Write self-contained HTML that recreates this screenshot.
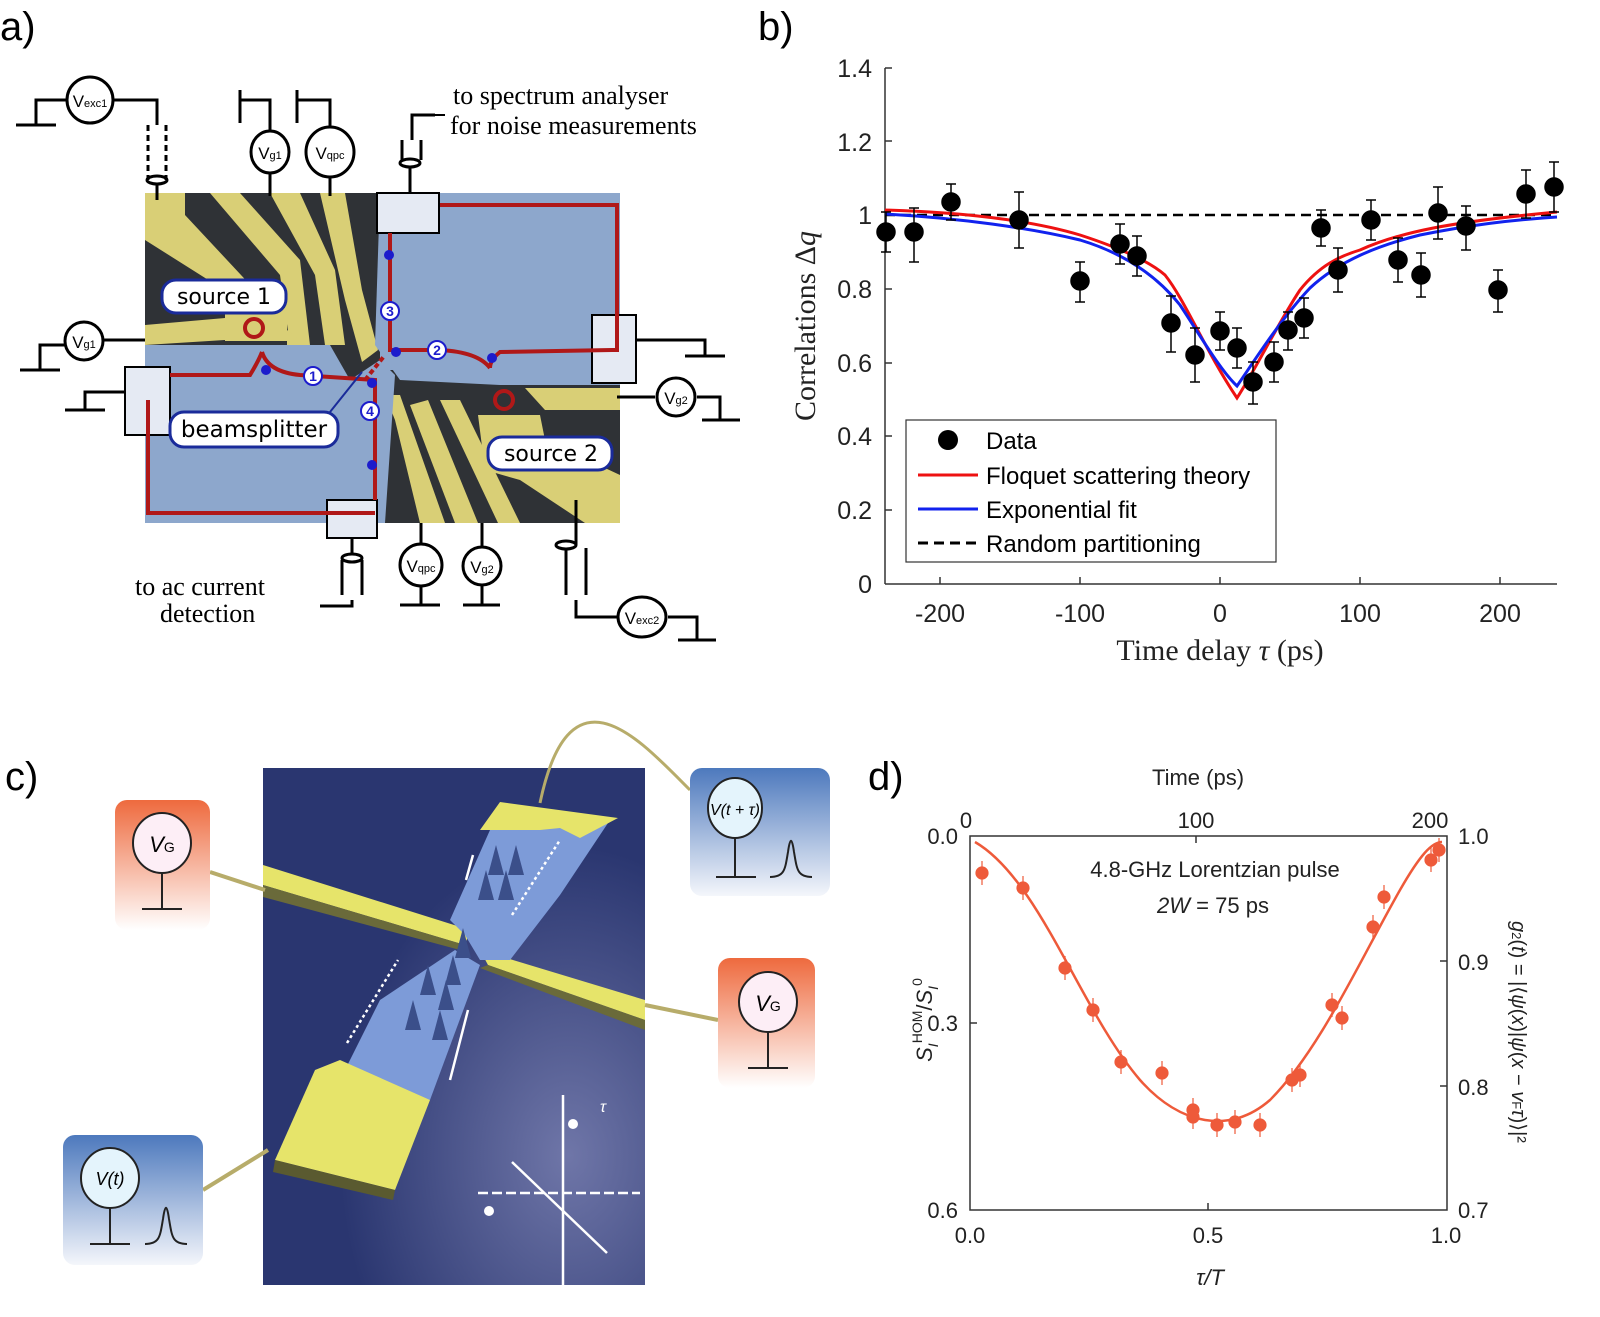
<!DOCTYPE html>
<html><head><meta charset="utf-8"><style>
html,body{margin:0;padding:0;background:#fff}
svg{display:block}
</style></head><body>
<svg width="1600" height="1317" viewBox="0 0 1600 1317" xmlns="http://www.w3.org/2000/svg" font-family="Liberation Sans, sans-serif">
<defs>
<linearGradient id="org" x1="0" y1="0" x2="0" y2="1"><stop offset="0" stop-color="#ee6a3e"/><stop offset="1" stop-color="#fff"/></linearGradient>
<linearGradient id="blu" x1="0" y1="0" x2="0" y2="1"><stop offset="0" stop-color="#4d79bd"/><stop offset="1" stop-color="#f4f6fb"/></linearGradient>
<radialGradient id="bg" cx="0.8" cy="0.75" r="0.6"><stop offset="0" stop-color="#6f76a8"/><stop offset="1" stop-color="#2a3670"/></radialGradient>
</defs>

<text x="0" y="40" font-size="40">a)</text>
<text x="758" y="40" font-size="40">b)</text>
<text x="5" y="790" font-size="40">c)</text>
<text x="868" y="790" font-size="40">d)</text>

<!-- ===== Panel a ===== -->
<rect x="145" y="193" width="475" height="330" fill="#8da7cc"/>
<polygon points="145,193 380,193 380,360 350,380 330,345 145,345" fill="#2f3236"/>
<polygon points="385,370 620,370 620,523 385,523" fill="#2f3236"/>
<!-- yellow stripes top-left -->
<polygon points="145,193 185,193 185,215 255,290 240,300 145,240" fill="#d9cf76"/>
<polygon points="210,193 240,193 300,260 310,345 290,345 280,275" fill="#d9cf76"/>
<polygon points="270,193 300,193 335,270 345,345 325,345 315,275" fill="#d9cf76"/>
<polygon points="320,193 345,193 362,290 378,350 362,362 345,300" fill="#d9cf76"/>
<polygon points="145,325 225,318 225,340 145,345" fill="#d9cf76"/>
<rect x="225" y="308" width="62" height="33" fill="#d9cf76"/>
<polygon points="287,330 300,340 300,345 287,345" fill="#d9cf76"/>
<!-- yellow stripes bottom-right -->
<polygon points="385,395 400,395 445,523 420,523 395,420" fill="#d9cf76"/>
<polygon points="410,405 428,400 478,523 455,523" fill="#d9cf76"/>
<polygon points="440,400 460,400 520,523 498,523" fill="#d9cf76"/>
<polygon points="478,415 540,415 545,440 620,475 620,523 585,523 520,480 485,470" fill="#d9cf76"/>
<polygon points="525,388 620,388 620,410 545,410" fill="#d9cf76"/>
<!-- blue regions -->
<polygon points="145,348 240,348 360,380 380,360 395,375 385,523 145,523" fill="#8da7cc"/>
<polygon points="380,193 620,193 620,385 500,385 400,380 375,345" fill="#8da7cc"/>
<!-- contacts -->
<rect x="377" y="193" width="62" height="40" fill="#e5eaf3" stroke="#000" stroke-width="2"/>
<rect x="592" y="315" width="44" height="68" fill="#e5eaf3" stroke="#000" stroke-width="2"/>
<rect x="125" y="367" width="45" height="68" fill="#e5eaf3" stroke="#000" stroke-width="2"/>
<rect x="327" y="500" width="50" height="38" fill="#e5eaf3" stroke="#000" stroke-width="2"/>
<g fill="none" stroke="#b01818" stroke-width="4">
<path d="M170,375 L250,375 Q258,362 262,352 M262,352 Q268,372 300,375 L375,380 L375,500"/>
<path d="M440,205 L617,205 L617,350 L612,350 L500,352 Q490,360 490,368 M490,368 Q478,352 440,350 L390,350 L390,233"/>
<path d="M375,513 L148,513 L148,400"/>
<circle cx="254" cy="328" r="9"/>
<circle cx="504" cy="400" r="9"/>
</g>
<line x1="365" y1="380" x2="385" y2="355" stroke="#b01818" stroke-width="4" stroke-dasharray="5,3"/>
<g fill="#1c1ccc"><circle cx="266" cy="370" r="5"/><circle cx="372" cy="383" r="5"/><circle cx="389" cy="255" r="5"/><circle cx="396" cy="352" r="5"/><circle cx="492" cy="358" r="5"/><circle cx="372" cy="465" r="5"/></g>
<g font-size="14" font-weight="bold" fill="#1c1ccc" text-anchor="middle">
<circle cx="313" cy="376" r="9" fill="#fff" stroke="#1c1ccc" stroke-width="2"/><text x="313" y="381">1</text>
<circle cx="437" cy="350" r="9" fill="#fff" stroke="#1c1ccc" stroke-width="2"/><text x="437" y="355">2</text>
<circle cx="390" cy="311" r="9" fill="#fff" stroke="#1c1ccc" stroke-width="2"/><text x="390" y="316">3</text>
<circle cx="370" cy="411" r="9" fill="#fff" stroke="#1c1ccc" stroke-width="2"/><text x="370" y="416">4</text>
</g>
<rect x="162" y="280" width="124" height="33" rx="14" fill="#fff" stroke="#1a2b9a" stroke-width="3"/>
<text x="224" y="304" font-size="22" text-anchor="middle" font-family="DejaVu Sans, sans-serif">source 1</text>
<rect x="170" y="412" width="168" height="35" rx="14" fill="#fff" stroke="#1a2b9a" stroke-width="3"/>
<text x="254" y="437" font-size="23" text-anchor="middle" font-family="DejaVu Sans, sans-serif">beamsplitter</text>
<line x1="330" y1="412" x2="362" y2="372" stroke="#1a2b9a" stroke-width="2"/>
<rect x="488" y="437" width="124" height="33" rx="14" fill="#fff" stroke="#1a2b9a" stroke-width="3"/>
<text x="551" y="461" font-size="22" text-anchor="middle" font-family="DejaVu Sans, sans-serif">source 2</text>
<g fill="none" stroke="#000" stroke-width="3">
<path d="M36,125 L36,100 L68,100 M112,100 L157,100 L157,125"/>
<path d="M148,125 L148,180 M166,125 L166,180" stroke-dasharray="6,4"/>
<ellipse cx="157" cy="180" rx="10" ry="4"/><line x1="157" y1="184" x2="157" y2="200"/>
<path d="M240,90 L240,123 M240,100 L270,100 L270,132 M270,172 L270,196"/>
<path d="M297,90 L297,123 M297,100 L330,100 L330,128 M330,176 L330,196"/>
<path d="M412,140 L412,115 L435,115 M402,140 L402,160 M421,140 L421,160" />
<ellipse cx="410" cy="163" rx="10" ry="4"/><line x1="410" y1="167" x2="410" y2="193"/>
<path d="M40,370 L40,345 L68,345 M100,340 L145,340"/>
<path d="M85,410 L85,392 L125,392"/>
<path d="M636,340 L705,340 L705,356 M617,397 L655,397 M697,397 L720,397 L720,420"/>
<path d="M352,538 L352,560 M342,560 L342,595 M362,560 L362,595"/>
<path d="M352,600 L352,606 L320,606"/>
<path d="M421,523 L421,545 M421,585 L421,605 M482,523 L482,548 M482,585 L482,605"/>
<path d="M576,500 L576,545 M566,548 L566,595 M586,548 L586,595 M576,600 L576,617 L618,617 M668,617 L697,617 L697,640"/>
</g>
<g fill="#fff" stroke="#000" stroke-width="3">
<ellipse cx="90" cy="100" rx="23" ry="23"/>
<ellipse cx="270" cy="152" rx="19" ry="21"/>
<ellipse cx="330" cy="152" rx="24" ry="25"/>
<ellipse cx="84" cy="341" rx="19" ry="19"/>
<ellipse cx="676" cy="397" rx="19" ry="19"/>
<ellipse cx="421" cy="565" rx="21" ry="21"/>
<ellipse cx="482" cy="566" rx="19" ry="19"/>
<ellipse cx="642" cy="617" rx="24" ry="20"/>
<ellipse cx="566" cy="545" rx="10" ry="4"/>
<ellipse cx="352" cy="558" rx="10" ry="4"/>
</g>
<g stroke="#000" stroke-width="3"><line x1="16" y1="125" x2="56" y2="125"/><line x1="20" y1="370" x2="60" y2="370"/><line x1="65" y1="410" x2="105" y2="410"/><line x1="685" y1="356" x2="725" y2="356"/><line x1="702" y1="420" x2="740" y2="420"/><line x1="400" y1="605" x2="440" y2="605"/><line x1="463" y1="605" x2="500" y2="605"/><line x1="678" y1="640" x2="716" y2="640"/></g>
<g font-size="17" text-anchor="middle">
<text x="90" y="107">V<tspan font-size="11">exc1</tspan></text>
<text x="270" y="159">V<tspan font-size="11">g1</tspan></text>
<text x="330" y="159">V<tspan font-size="11">qpc</tspan></text>
<text x="84" y="348">V<tspan font-size="11">g1</tspan></text>
<text x="676" y="404">V<tspan font-size="11">g2</tspan></text>
<text x="421" y="572">V<tspan font-size="11">qpc</tspan></text>
<text x="482" y="573">V<tspan font-size="11">g2</tspan></text>
<text x="642" y="624">V<tspan font-size="11">exc2</tspan></text>
</g>
<path d="M430,115 L445,115" stroke="#000" stroke-width="2"/>
<g font-size="26" font-family="Liberation Serif, serif">
<text x="453" y="104">to spectrum analyser</text>
<text x="450" y="134">for noise measurements</text>
<text x="135" y="595">to ac current</text>
<text x="160" y="622">detection</text>
</g>

<!-- ===== Panel b ===== -->
<g font-size="25" fill="#222">
<line x1="885" y1="68" x2="885" y2="584" stroke="#333" stroke-width="1.5"/>
<line x1="885" y1="584" x2="1557" y2="584" stroke="#333" stroke-width="1.5"/>
<g text-anchor="end">
<text x="872" y="77">1.4</text><text x="872" y="151">1.2</text><text x="872" y="224">1</text><text x="872" y="298">0.8</text><text x="872" y="372">0.6</text><text x="872" y="445">0.4</text><text x="872" y="519">0.2</text><text x="872" y="593">0</text>
</g>
<g stroke="#333" stroke-width="1.5">
<line x1="885" y1="68" x2="892" y2="68"/><line x1="885" y1="141" x2="892" y2="141"/><line x1="885" y1="215" x2="892" y2="215"/><line x1="885" y1="289" x2="892" y2="289"/><line x1="885" y1="363" x2="892" y2="363"/><line x1="885" y1="436" x2="892" y2="436"/><line x1="885" y1="510" x2="892" y2="510"/>
<line x1="940" y1="584" x2="940" y2="577"/><line x1="1080" y1="584" x2="1080" y2="577"/><line x1="1220" y1="584" x2="1220" y2="577"/><line x1="1360" y1="584" x2="1360" y2="577"/><line x1="1500" y1="584" x2="1500" y2="577"/>
</g>
<g text-anchor="middle"><text x="940" y="622">-200</text><text x="1080" y="622">-100</text><text x="1220" y="622">0</text><text x="1360" y="622">100</text><text x="1500" y="622">200</text></g>
<text x="1220" y="660" text-anchor="middle" font-family="Liberation Serif, serif" font-size="30">Time delay <tspan font-style="italic">τ</tspan> (ps)</text>
<text transform="translate(815,326) rotate(-90)" text-anchor="middle" font-family="Liberation Serif, serif" font-size="30">Correlations Δ<tspan font-style="italic">q</tspan></text>
</g>
<line x1="885" y1="215" x2="1557" y2="215" stroke="#000" stroke-width="2.5" stroke-dasharray="10,6"/>
<path d="M885,210 C960,212 1030,220 1080,235 C1120,248 1150,262 1165,275 C1185,300 1205,350 1237,398 C1255,370 1280,320 1300,290 C1320,265 1340,256 1360,250 C1400,232 1450,222 1557,212" fill="none" stroke="#ee1111" stroke-width="3"/>
<path d="M885,214 C960,218 1030,228 1080,240 C1130,255 1160,280 1180,305 C1200,335 1220,370 1237,386 C1255,360 1280,320 1310,288 C1340,260 1380,245 1420,235 C1470,225 1510,220 1557,217" fill="none" stroke="#1122ee" stroke-width="3"/>
<g stroke="#000" stroke-width="1.5" fill="#000">
<path d="M886,212v40M914,208v54M951,184v36M1019,192v56M1080,262v40M1120,224v40M1137,236v40M1171,296v56M1195,328v54M1220,312v38M1237,328v40M1253,362v42M1274,342v40M1288,312v38M1304,298v40M1321,210v36M1338,248v44M1371,200v40M1398,238v44M1421,253v44M1438,187v52M1466,206v44M1498,270v42M1526,170v48M1554,162v50"/>
<path d="M881,212h10M881,252h10M909,208h10M909,262h10M946,184h10M946,220h10M1014,192h10M1014,248h10M1075,262h10M1075,302h10M1115,224h10M1115,264h10M1132,236h10M1132,276h10M1166,296h10M1166,352h10M1190,328h10M1190,382h10M1215,312h10M1215,350h10M1232,328h10M1232,368h10M1248,362h10M1248,404h10M1269,342h10M1269,382h10M1283,312h10M1283,350h10M1299,298h10M1299,338h10M1316,210h10M1316,246h10M1333,248h10M1333,292h10M1366,200h10M1366,240h10M1393,238h10M1393,282h10M1416,253h10M1416,297h10M1433,187h10M1433,239h10M1461,206h10M1461,250h10M1493,270h10M1493,312h10M1521,170h10M1521,218h10M1549,162h10M1549,212h10"/>
<circle cx="886" cy="232" r="9"/><circle cx="914" cy="232" r="9"/><circle cx="951" cy="202" r="9"/><circle cx="1019" cy="220" r="9"/><circle cx="1080" cy="281" r="9"/><circle cx="1120" cy="244" r="9"/><circle cx="1137" cy="256" r="9"/><circle cx="1171" cy="323" r="9"/><circle cx="1195" cy="355" r="9"/><circle cx="1220" cy="331" r="9"/><circle cx="1237" cy="348" r="9"/><circle cx="1253" cy="382" r="9"/><circle cx="1274" cy="362" r="9"/><circle cx="1288" cy="330" r="9"/><circle cx="1304" cy="318" r="9"/><circle cx="1321" cy="228" r="9"/><circle cx="1338" cy="270" r="9"/><circle cx="1371" cy="220" r="9"/><circle cx="1398" cy="260" r="9"/><circle cx="1421" cy="275" r="9"/><circle cx="1438" cy="213" r="9"/><circle cx="1466" cy="226" r="9"/><circle cx="1498" cy="290" r="9"/><circle cx="1526" cy="194" r="9"/><circle cx="1554" cy="187" r="9"/>
</g>
<rect x="906" y="420" width="370" height="142" fill="#fff" stroke="#333" stroke-width="1.2"/>
<circle cx="948" cy="440" r="10" fill="#000"/>
<line x1="918" y1="475" x2="978" y2="475" stroke="#ee1111" stroke-width="3"/>
<line x1="918" y1="509" x2="978" y2="509" stroke="#1122ee" stroke-width="3"/>
<line x1="918" y1="543" x2="978" y2="543" stroke="#000" stroke-width="3" stroke-dasharray="10,6"/>
<g font-size="24"><text x="986" y="449">Data</text><text x="986" y="484">Floquet scattering theory</text><text x="986" y="518">Exponential fit</text><text x="986" y="552">Random partitioning</text></g>

<!-- ===== Panel c ===== -->
<rect x="263" y="768" width="382" height="517" fill="url(#bg)"/>
<polygon points="263,865 470,930 465,945 263,885" fill="#e6e46a"/>
<polygon points="263,885 465,945 460,950 263,897" fill="#6a6a3a"/>
<polygon points="480,950 645,1000 645,1020 488,965" fill="#e6e46a"/>
<polygon points="488,965 645,1020 645,1030 480,968" fill="#6a6a3a"/>
<polygon points="490,830 610,820 560,895 510,960 480,960 465,935 450,920" fill="#7d9bd8"/>
<polygon points="455,950 480,965 430,1100 340,1080 380,1000" fill="#7d9bd8"/>
<polygon points="500,802 618,818 580,838 560,828 540,830 480,830" fill="#e6e46a"/>
<polygon points="340,1060 430,1100 395,1190 275,1160 315,1070" fill="#e6e46a"/>
<polygon points="275,1160 395,1190 393,1200 273,1172" fill="#5a5a30"/>
<g fill="#3b4f8a"><path d="M432,1040l8,-30l8,30z"/><path d="M438,1010l8,-30l8,30z"/><path d="M445,985l8,-30l8,30z"/><path d="M455,958l8,-30l8,30z"/><path d="M405,1030l8,-30l8,30z"/><path d="M420,995l8,-30l8,30z"/><path d="M498,900l8,-30l8,30z"/><path d="M508,875l8,-30l8,30z"/><path d="M478,900l8,-30l8,30z"/><path d="M488,875l8,-30l8,30z"/></g>
<g stroke="#fff" stroke-width="2.5" fill="none"><line x1="450" y1="1080" x2="468" y2="1010"/><line x1="473" y1="855" x2="466" y2="880"/><line x1="347" y1="1043" x2="398" y2="960" stroke-dasharray="3,3"/><line x1="512" y1="915" x2="560" y2="840" stroke-dasharray="3,3"/>
<line x1="512" y1="1162" x2="607" y2="1253"/><line x1="563" y1="1095" x2="563" y2="1285"/><line x1="478" y1="1193" x2="640" y2="1193" stroke-dasharray="10,4"/></g>
<circle cx="573" cy="1124" r="5" fill="#fff"/><circle cx="489" cy="1211" r="5" fill="#fff"/>
<text x="600" y="1112" fill="#fff" font-size="16" font-style="italic">τ</text>
<path d="M540,803 C570,660 640,740 690,790" fill="none" stroke="#b7ac6a" stroke-width="3"/>
<line x1="203" y1="1190" x2="268" y2="1150" stroke="#b7ac6a" stroke-width="4"/>
<line x1="210" y1="872" x2="265" y2="890" stroke="#b7ac6a" stroke-width="4"/>
<line x1="645" y1="1005" x2="718" y2="1020" stroke="#b7ac6a" stroke-width="4"/>
<rect x="115" y="800" width="95" height="130" rx="12" fill="url(#org)"/>
<ellipse cx="162" cy="843" rx="29" ry="30" fill="#fdeef6" stroke="#222" stroke-width="2"/>
<text x="162" y="852" font-size="22" text-anchor="middle" font-style="italic">V<tspan font-size="14" font-style="normal">G</tspan></text>
<path d="M162,873v36M142,909h40" stroke="#222" stroke-width="2"/>
<rect x="718" y="958" width="97" height="130" rx="12" fill="url(#org)"/>
<ellipse cx="768" cy="1002" rx="29" ry="30" fill="#fdeef6" stroke="#222" stroke-width="2"/>
<text x="768" y="1011" font-size="22" text-anchor="middle" font-style="italic">V<tspan font-size="14" font-style="normal">G</tspan></text>
<path d="M768,1032v36M748,1068h40" stroke="#222" stroke-width="2"/>
<rect x="690" y="768" width="140" height="128" rx="12" fill="url(#blu)"/>
<ellipse cx="735" cy="808" rx="27" ry="30" fill="#e4f4fc" stroke="#222" stroke-width="2"/>
<text x="735" y="815" font-size="16" text-anchor="middle" font-style="italic">V(t + τ)</text>
<path d="M735,838v38M716,877h40M770,877c15,0 15,-8 18,-25c2,-15 4,-15 6,0c3,17 3,25 18,25" stroke="#222" stroke-width="2" fill="none"/>
<rect x="63" y="1135" width="140" height="130" rx="12" fill="url(#blu)"/>
<ellipse cx="110" cy="1178" rx="29" ry="30" fill="#e4f4fc" stroke="#222" stroke-width="2"/>
<text x="110" y="1185" font-size="18" text-anchor="middle" font-style="italic">V(t)</text>
<path d="M110,1208v36M90,1244h40M145,1244c15,0 15,-8 18,-25c2,-15 4,-15 6,0c3,17 3,25 18,25" stroke="#222" stroke-width="2" fill="none"/>

<!-- ===== Panel d ===== -->
<rect x="970" y="836" width="477" height="374" fill="none" stroke="#333" stroke-width="1.5"/>
<g font-size="22" fill="#222">
<g text-anchor="end"><text x="958" y="844">0.0</text><text x="958" y="1031">0.3</text><text x="958" y="1218">0.6</text></g>
<g><text x="1458" y="844">1.0</text><text x="1458" y="970">0.9</text><text x="1458" y="1095">0.8</text><text x="1458" y="1218">0.7</text></g>
<g text-anchor="middle"><text x="970" y="1243">0.0</text><text x="1208" y="1243">0.5</text><text x="1446" y="1243">1.0</text>
<text x="966" y="828">0</text><text x="1196" y="828">100</text><text x="1430" y="828">200</text>
<text x="1198" y="785">Time (ps)</text>
<text x="1210" y="1285" font-style="italic">τ/T</text>
<text x="1215" y="877">4.8-GHz Lorentzian pulse</text>
<text x="1213" y="913"><tspan font-style="italic">2W</tspan> = 75 ps</text></g>
<text transform="translate(932,1020) rotate(-90)" text-anchor="middle" font-size="22"><tspan font-style="italic">S</tspan><tspan font-size="14" dy="6" font-style="italic">I</tspan><tspan font-size="14" dy="-16">HOM</tspan><tspan dy="10">/</tspan><tspan font-style="italic">S</tspan><tspan font-size="14" dy="6" font-style="italic">I</tspan><tspan font-size="14" dy="-16">0</tspan></text>
<text transform="translate(1512,1032) rotate(90)" text-anchor="middle" font-size="20"><tspan font-style="italic">g</tspan><tspan font-size="13">2</tspan>(<tspan font-style="italic">t</tspan>) = |⟨<tspan font-style="italic">ψ</tspan>(<tspan font-style="italic">x</tspan>)|<tspan font-style="italic">ψ</tspan>(<tspan font-style="italic">x</tspan> − <tspan font-style="italic">v</tspan><tspan font-size="13">F</tspan><tspan font-style="italic">τ</tspan>)⟩|²</text>
</g>
<g stroke="#333" stroke-width="1.5">
<line x1="970" y1="1023" x2="977" y2="1023"/><line x1="1447" y1="961" x2="1440" y2="961"/><line x1="1447" y1="1086" x2="1440" y2="1086"/>
<line x1="1208" y1="1210" x2="1208" y2="1203"/><line x1="1196" y1="836" x2="1196" y2="843"/>
</g>
<path d="M975,842 C1040,880 1080,1010 1140,1080 C1180,1125 1230,1135 1270,1100 C1320,1050 1360,960 1400,890 C1420,855 1432,842 1442,842" fill="none" stroke="#ee5a3a" stroke-width="2.5"/>
<g fill="#ee5a3a" stroke="#ee5a3a" stroke-width="1.2">
<path d="M982,861v24M1023,876v24M1065,956v24M1093,998v24M1121,1050v24M1162,1061v24M1193,1098v24M1193,1105v24M1217,1113v24M1235,1110v24M1260,1113v24M1292,1068v24M1300,1063v24M1332,993v24M1342,1006v24M1373,915v24M1384,885v24M1431,848v24M1439,838v24"/>
<circle cx="982" cy="873" r="6"/><circle cx="1023" cy="888" r="6"/><circle cx="1065" cy="968" r="6"/><circle cx="1093" cy="1010" r="6"/><circle cx="1121" cy="1062" r="6"/><circle cx="1162" cy="1073" r="6"/><circle cx="1193" cy="1110" r="6"/><circle cx="1193" cy="1117" r="6"/><circle cx="1217" cy="1125" r="6"/><circle cx="1235" cy="1122" r="6"/><circle cx="1260" cy="1125" r="6"/><circle cx="1292" cy="1080" r="6"/><circle cx="1300" cy="1075" r="6"/><circle cx="1332" cy="1005" r="6"/><circle cx="1342" cy="1018" r="6"/><circle cx="1373" cy="927" r="6"/><circle cx="1384" cy="897" r="6"/><circle cx="1431" cy="860" r="6"/><circle cx="1439" cy="850" r="6"/>
</g>
</svg>
</body></html>
